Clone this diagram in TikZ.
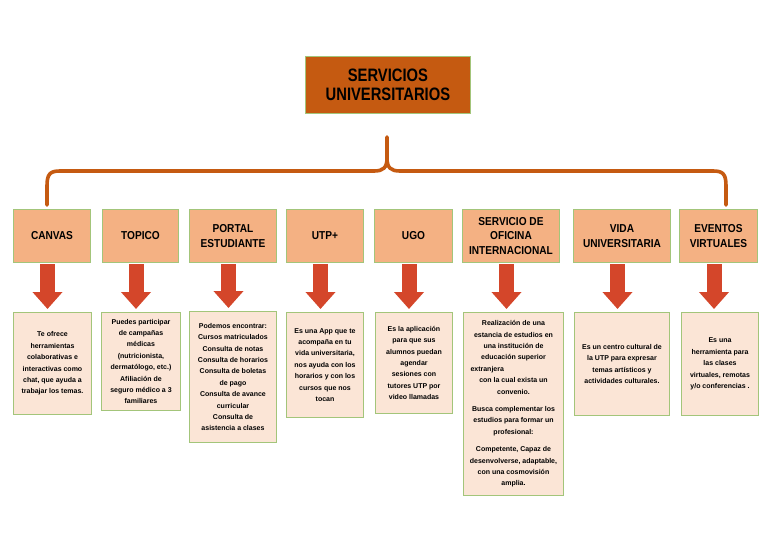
\documentclass[tikz,border=0pt]{standalone}
\usepackage{fontspec}
\setmainfont{Liberation Sans}
\newfontfamily\hdrfont[FakeStretch=0.88]{Liberation Sans}
\newfontfamily\ttlfont[FakeStretch=0.82]{Liberation Sans}
\usetikzlibrary{arrows.meta}
\definecolor{titlefill}{HTML}{C55A11}
\definecolor{hdrfill}{HTML}{F4B183}
\definecolor{descfill}{HTML}{FBE5D6}
\definecolor{boxline}{HTML}{A3C57A}
\definecolor{arrowred}{HTML}{D4462A}
\tikzset{
  titlebox/.style={draw=boxline, line width=0.8pt, fill=titlefill, anchor=north west, inner sep=0pt,
    minimum width=165pt, minimum height=57pt, align=center,
    font=\ttlfont\bfseries\fontsize{18}{19.5}\selectfont},
  hdrbox/.style={draw=boxline, line width=1pt, fill=hdrfill, anchor=north west, inner sep=0pt,
    minimum height=53pt, align=center,
    font=\hdrfont\bfseries\fontsize{11.5}{14.5}\selectfont},
  descbox/.style={draw=boxline, line width=1pt, fill=descfill, anchor=north west, inner sep=0pt,
    align=center, font=\bfseries\fontsize{7}{11.4}\selectfont},
  bigarrow/.style={draw=arrowred, line width=15pt, line cap=butt,
    -{Triangle[width=29pt,length=17pt]}, shorten <=1pt, shorten >=3pt},
  brace/.style={draw=titlefill, line width=3.6pt, line join=round, line cap=round}
}
\begin{document}
\begin{tikzpicture}[x=1pt, y=-1pt]
\useasboundingbox (0,0) rectangle (768,543);

\node[titlebox] (t) at (305,56) {SERVICIOS\\UNIVERSITARIOS};

\draw[brace] (47,205) -- (47,186) .. controls (47,174) and (50,171) .. (60,171)
  -- (374,171) .. controls (383,171) and (387,168) .. (387,158) -- (387,137);
\draw[brace] (387,158) .. controls (387,168) and (391,171) .. (400,171)
  -- (713,171) .. controls (723,171) and (726,174) .. (726,186) -- (726,205);

\node[hdrbox, minimum width=77pt] (h1) at (13,209) {CANVAS};
\node[hdrbox, minimum width=76pt] (h2) at (102,209) {TOPICO};
\node[hdrbox, minimum width=87pt] (h3) at (189,209) {PORTAL\\ESTUDIANTE};
\node[hdrbox, minimum width=77pt] (h4) at (286,209) {UTP+};
\node[hdrbox, minimum width=78pt] (h5) at (374,209) {UGO};
\node[hdrbox, minimum width=97pt] (h6) at (462,209) {SERVICIO DE\\OFICINA\\INTERNACIONAL};
\node[hdrbox, minimum width=97pt] (h7) at (573,209) {VIDA\\UNIVERSITARIA};
\node[hdrbox, minimum width=78pt] (h8) at (679,209) {EVENTOS\\VIRTUALES};

\node[descbox, minimum width=78pt, minimum height=102pt] (d1) at (13,312)
  {Te ofrece\\herramientas\\colaborativas e\\interactivas como\\chat, que ayuda a\\trabajar los temas.};
\node[descbox, minimum width=79pt, minimum height=98pt] (d2) at (101,312)
  {Puedes participar\\de campañas\\médicas\\(nutricionista,\\dermatólogo, etc.)\\Afiliación de\\seguro médico a 3\\familiares};
\node[descbox, minimum width=87pt, minimum height=131pt] (d3) at (189,311)
  {Podemos encontrar:\\Cursos matriculados\\Consulta de notas\\Consulta de horarios\\Consulta de boletas\\de pago\\Consulta de avance\\curricular\\Consulta de\\asistencia a clases};
\node[descbox, minimum width=77pt, minimum height=105pt] (d4) at (286,312)
  {Es una App que te\\acompaña en tu\\vida universitaria,\\nos ayuda con los\\horarios y con los\\cursos que nos\\tocan};
\node[descbox, minimum width=77pt, minimum height=101pt] (d5) at (375,312)
  {Es la aplicación\\para que sus\\alumnos puedan\\agendar\\sesiones con\\tutores UTP por\\video llamadas};
\node[descbox, minimum width=100pt, minimum height=183pt] (d6) at (463,312)
  {Realización de una\\estancia de estudios en\\una institución de\\educación superior\\\makebox[86pt][l]{extranjera}\\con la cual exista un\\convenio.\\[6pt]Busca complementar los\\estudios para formar un\\profesional:\\[6pt]Competente, Capaz de\\desenvolverse, adaptable,\\con una cosmovisión\\amplia.};
\node[descbox, minimum width=95pt, minimum height=103pt] (d7) at (574,312)
  {Es un centro cultural de\\la UTP para expresar\\temas artísticos y\\actividades culturales.};
\node[descbox, minimum width=77pt, minimum height=103pt] (d8) at (681,312)
  {Es una\\herramienta para\\las clases\\virtuales, remotas\\y/o conferencias .};

\foreach \i in {1,...,8}{
  \draw[bigarrow] ([xshift=-4.5pt]h\i.south) -- ([xshift=-4.5pt]h\i.south |- d\i.north);
}
\end{tikzpicture}
\end{document}
